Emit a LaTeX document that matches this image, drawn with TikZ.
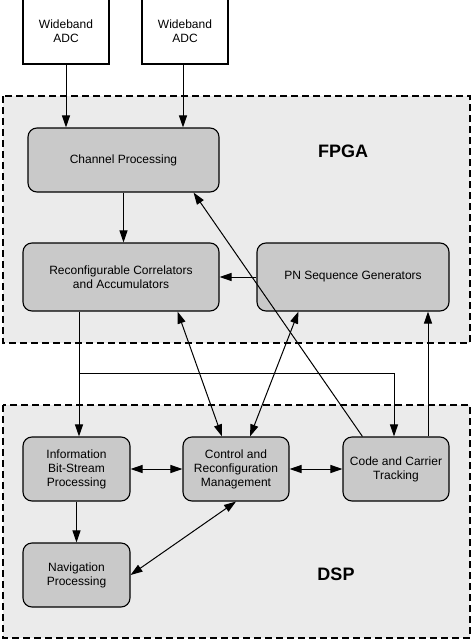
\documentclass[tikz,border=0pt]{standalone}
\usepackage{fontspec}
\setmainfont{Liberation Sans}
\usetikzlibrary{arrows.meta}
\definecolor{regiongray}{RGB}{235,235,235}
\definecolor{boxgray}{RGB}{201,201,201}
\tikzset{
  blk/.style={draw, line width=1.1pt, rounded corners=9pt, fill=boxgray, align=center,
    font=\fontsize{12}{14}\selectfont, inner sep=0pt},
  adcbox/.style={draw, line width=1.1pt, fill=white, align=center,
    font=\fontsize{12}{14}\selectfont, inner sep=0pt, minimum width=86pt, minimum height=65pt},
  region/.style={draw, line width=1.3pt, dash pattern=on 7pt off 4pt, fill=regiongray},
  lbl/.style={font=\fontsize{18}{20}\selectfont\bfseries},
  arr/.style={-{Triangle[length=12pt,width=8pt]}, line width=1pt},
  darr/.style={{Triangle[length=12pt,width=8pt]}-{Triangle[length=12pt,width=8pt]}, line width=1pt}
}
\begin{document}
\begin{tikzpicture}[x=1pt,y=-1pt]
\useasboundingbox (0,0) rectangle (474,642);
\clip (0,0) rectangle (474,642);
% regions
\draw[region] (3,96) rectangle (470,343);
\draw[region] (3,405) rectangle (470,638);
\node[lbl] (fpgalbl) at (343,151) {FPGA};
\node[lbl] (dsplbl) at (336,574) {DSP};
% ADCs
\node[adcbox] (adc1) at (66,31.5) {Wideband\\ADC};
\node[adcbox] (adc2) at (185,31.5) {Wideband\\ADC};
% FPGA blocks
\node[blk, minimum width=191pt, minimum height=64pt] (chan) at (123.5,160) {Channel Processing};
\node[blk, minimum width=196pt, minimum height=68pt] (corr) at (121,277) {Reconfigurable Correlators\\and Accumulators};
\node[blk, minimum width=192pt, minimum height=68pt] (pn) at (353,277) {PN Sequence Generators};
% DSP blocks
\node[blk, minimum width=107pt, minimum height=64pt] (info) at (76.5,469) {Information\\Bit-Stream\\Processing};
\node[blk, minimum width=106pt, minimum height=64pt] (ctrl) at (236,469) {Control and\\Reconfiguration\\Management};
\node[blk, minimum width=106pt, minimum height=64pt] (code) at (396,469) {Code and Carrier\\Tracking};
\node[blk, minimum width=107pt, minimum height=64pt] (nav) at (76.5,575) {Navigation\\Processing};
% connectors
\draw[arr] (adc1.south) -- (adc1.south |- chan.north);
\draw[arr] ([xshift=-2pt]adc2.south) -- ([xshift=-2pt]adc2.south |- chan.north);
\draw[arr] (chan.south) -- (chan.south |- corr.north);
\draw[arr] (pn.west) -- (corr.east);
\coordinate (bus) at (79,373);
\draw[arr] ([xshift=2.5pt]info.north |- corr.south) -- ([xshift=2.5pt]info.north);
\draw[arr] (bus) -| ([xshift=-2pt]code.north);
\draw[arr] ([xshift=32pt]code.north) -- ([xshift=32pt]code.north |- pn.south);
\draw[arr] ([xshift=20pt]code.north west) -- ([xshift=-26pt]chan.south east);
\draw[darr] ([xshift=-42pt]corr.south east) -- ([xshift=-14pt]ctrl.north);
\draw[darr] ([xshift=42pt]pn.south west) -- ([xshift=14pt]ctrl.north);
\draw[darr] (info.east) -- (ctrl.west);
\draw[darr] (ctrl.east) -- (code.west);
\draw[arr] (info.south) -- (nav.north);
\draw[darr] (nav.east) -- (ctrl.south);
\end{tikzpicture}
\end{document}
